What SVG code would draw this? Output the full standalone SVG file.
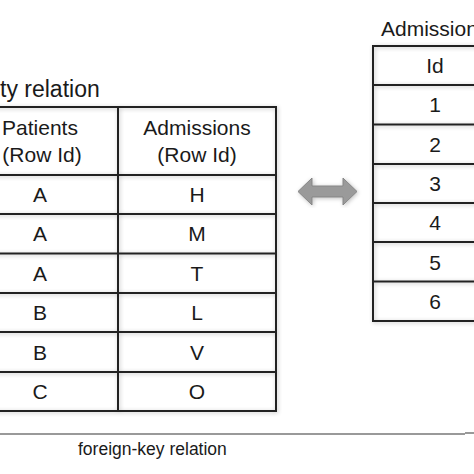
<svg xmlns="http://www.w3.org/2000/svg" width="474" height="474" viewBox="0 0 474 474">
<style>
text{font-family:"Liberation Sans",Arial,sans-serif;font-size:21px;fill:#1a1a1a}
.c{text-anchor:middle}
.ln{stroke:#222;stroke-width:2;fill:none}
</style>
<defs>
<filter id="sh" x="-10%" y="-10%" width="120%" height="120%">
<feGaussianBlur in="SourceAlpha" stdDeviation="2"/>
<feOffset dx="1" dy="1"/>
<feComponentTransfer><feFuncA type="linear" slope="0.25"/></feComponentTransfer>
<feMerge><feMergeNode/><feMergeNode in="SourceGraphic"/></feMerge>
</filter>
</defs>
<rect width="474" height="474" fill="#fff"/>
<g id="left-table">
<text x="0" y="97" style="font-size:23px">ty relation</text>
<g filter="url(#sh)">
<rect x="-40" y="107" width="316" height="304" fill="#fff" class="ln"/>
<line x1="118" y1="107" x2="118" y2="411" class="ln"/>
<line x1="-40" y1="175" x2="276" y2="175" class="ln"/>
<line x1="-40" y1="214" x2="276" y2="214" class="ln"/>
<line x1="-40" y1="253.5" x2="276" y2="253.5" class="ln"/>
<line x1="-40" y1="293" x2="276" y2="293" class="ln"/>
<line x1="-40" y1="332" x2="276" y2="332" class="ln"/>
<line x1="-40" y1="372" x2="276" y2="372" class="ln"/>
</g>
<text x="40" y="135" class="c">Patients</text>
<text x="42" y="162" class="c">(Row Id)</text>
<text x="197" y="135" class="c">Admissions</text>
<text x="197" y="162" class="c">(Row Id)</text>
<text x="40" y="202" class="c">A</text><text x="197" y="202" class="c">H</text>
<text x="40" y="241" class="c">A</text><text x="197" y="241" class="c">M</text>
<text x="40" y="281" class="c">A</text><text x="197" y="281" class="c">T</text>
<text x="40" y="320" class="c">B</text><text x="197" y="320" class="c">L</text>
<text x="40" y="360" class="c">B</text><text x="197" y="360" class="c">V</text>
<text x="40" y="399" class="c">C</text><text x="197" y="399" class="c">O</text>
</g>
<g id="right-table">
<text x="381" y="36">Admissions</text>
<g filter="url(#sh)">
<rect x="373" y="46" width="130" height="275" fill="#fff" class="ln"/>
<line x1="373" y1="85" x2="503" y2="85" class="ln"/>
<line x1="373" y1="124.5" x2="503" y2="124.5" class="ln"/>
<line x1="373" y1="164" x2="503" y2="164" class="ln"/>
<line x1="373" y1="203" x2="503" y2="203" class="ln"/>
<line x1="373" y1="242" x2="503" y2="242" class="ln"/>
<line x1="373" y1="281.5" x2="503" y2="281.5" class="ln"/>
</g>
<text x="435" y="73" class="c">Id</text>
<text x="435" y="112" class="c">1</text>
<text x="435" y="152" class="c">2</text>
<text x="435" y="191" class="c">3</text>
<text x="435" y="230" class="c">4</text>
<text x="435" y="270" class="c">5</text>
<text x="435" y="309" class="c">6</text>
</g>
<g id="connectors">
<polygon points="298,191.5 312,178 312,186 343,186 343,178 357,191.5 343,205 343,197 312,197 312,205" fill="#9a9a9a" stroke="#858585" stroke-width="1" filter="url(#sh)"/>
<line x1="0" y1="434" x2="465" y2="434" stroke="#777" stroke-width="1.5"/>
<line x1="465" y1="433" x2="474" y2="433" stroke="#777" stroke-width="1.5"/>
<text x="78" y="455" style="font-size:17.5px">foreign-key relation</text>
</g>
</svg>
